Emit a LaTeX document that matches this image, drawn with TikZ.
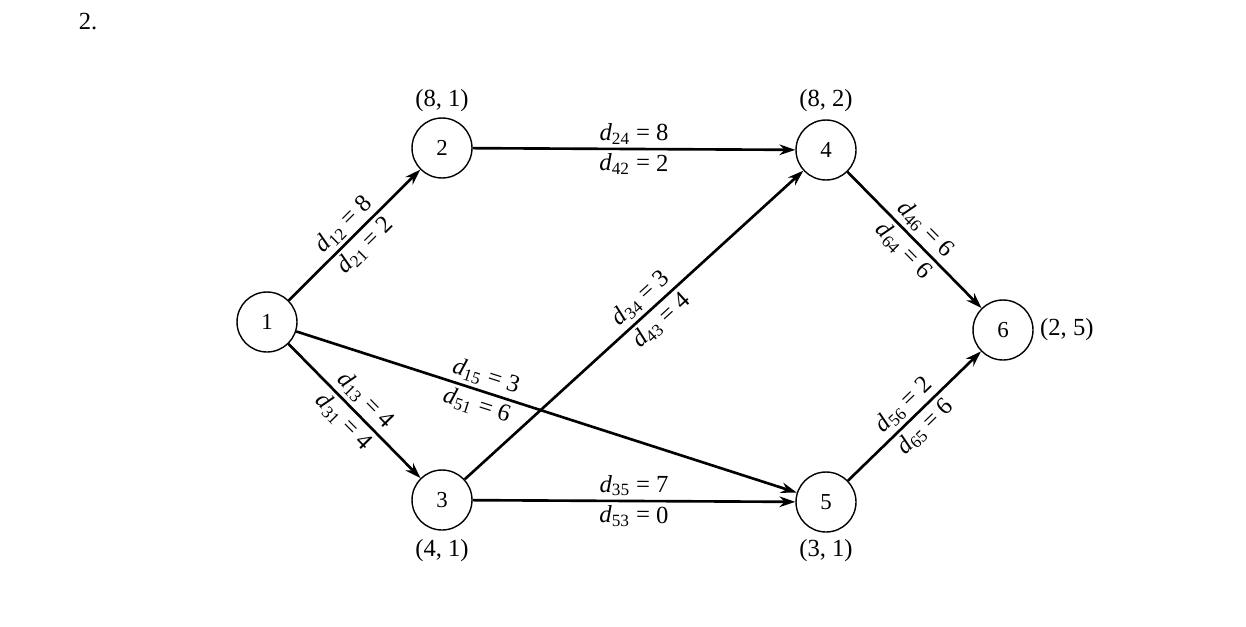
\documentclass[tikz,border=0pt]{standalone}
\usepackage{fontspec}
\setmainfont{Liberation Serif}
\usetikzlibrary{arrows.meta}
\newcommand{\dd}[1]{\textit{d}\textsubscript{#1}}
\begin{document}
\begin{tikzpicture}[x=0.02cm,y=-0.02cm,
  vtx/.style={circle,draw,line width=0.8pt,minimum size=1.2cm,inner sep=0pt,font=\fontsize{13}{15}\selectfont},
  arc/.style={line width=1.5pt,-{Stealth[length=9pt,width=6pt]}},
  lab/.style={font=\fontsize{14}{16}\selectfont,sloped,inner sep=2pt},
  ann/.style={font=\fontsize{14}{16}\selectfont}]
\useasboundingbox (0,0) rectangle (1246,626);
\node[ann] (num) at (88,22) {2.};
\node[vtx] (n1) at (267,322) {1};
\node[vtx] (n2) at (442,148) {2};
\node[vtx] (n4) at (826,150) {4};
\node[vtx] (n6) at (1003,330) {6};
\node[vtx] (n3) at (442,500) {3};
\node[vtx] (n5) at (826,502) {5};
\node[ann] (a2) at (442,101) {(8, 1)};
\node[ann] (a4) at (826,101) {(8, 2)};
\node[ann] (a3) at (442,551) {(4, 1)};
\node[ann] (a5) at (826,551) {(3, 1)};
\node[ann,anchor=west] (a6) at (1034,330) {(2, 5)};
\draw[arc] (n1) -- node[lab,above]{\dd{12} = 8} node[lab,below]{\dd{21} = 2} (n2);
\draw[arc] (n2) -- node[lab,above]{\dd{24} = 8} node[lab,below]{\dd{42} = 2} (n4);
\draw[arc] (n1) -- node[lab,above]{\dd{13} = 4} node[lab,below]{\dd{31} = 4} (n3);
\draw[arc] (n1) -- node[lab,above,pos=0.37]{\dd{15} = 3} node[lab,below,pos=0.37]{\dd{51} = 6} (n5);
\draw[arc] (n3) -- node[lab,above,pos=0.55]{\dd{34} = 3} node[lab,below,pos=0.55]{\dd{43} = 4} (n4);
\draw[arc] (n3) -- node[lab,above]{\dd{35} = 7} node[lab,below]{\dd{53} = 0} (n5);
\draw[arc] (n4) -- node[lab,above]{\dd{46} = 6} node[lab,below]{\dd{64} = 6} (n6);
\draw[arc] (n5) -- node[lab,above]{\dd{56} = 2} node[lab,below]{\dd{65} = 6} (n6);
\end{tikzpicture}
\end{document}
